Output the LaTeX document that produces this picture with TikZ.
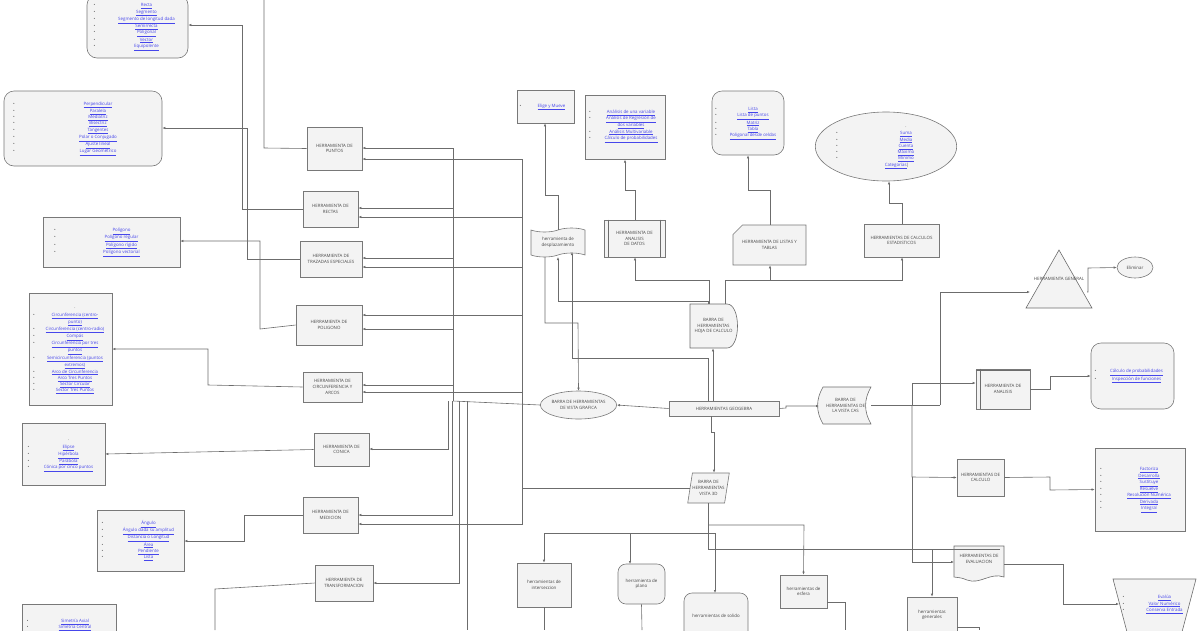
\documentclass[tikz,border=0pt]{standalone}
\usepackage{fontspec}
\setmainfont{Open Sans}
\usepackage{array}
\usetikzlibrary{arrows.meta,shapes.geometric,shapes.misc,shapes.symbols}
\definecolor{lb}{RGB}{70,70,235}
\definecolor{bf}{RGB}{243,243,243}
\definecolor{bd}{RGB}{120,120,120}
\definecolor{tx}{RGB}{70,70,70}
\newcommand\lk[1]{\textcolor{lb}{\underline{#1}}}
\newcommand\blist[3]{\begin{tabular}{@{}p{#1pt}@{}>{\centering\arraybackslash}p{#2pt}@{}}#3\end{tabular}}
\newcommand\tb{\textbullet}
\begin{document}
\begin{tikzpicture}[x=1pt,y=-1pt,
 box/.style={draw=bd,fill=bf,line width=0.6pt,inner sep=0pt,align=center,text=tx,font=\fontsize{4.4}{5.6}\selectfont},
 rbox/.style={box,rounded corners=8pt},
 lst/.style={box,font=\fontsize{4.4}{6}\selectfont},
 rlst/.style={lst,rounded corners=10pt},
 ln/.style={draw=bd!90!black,line width=0.6pt},
 arr/.style={ln,-{Latex[length=3pt,width=2.5pt]}}]
\useasboundingbox (0,0) rectangle (1200,630);
% ---- list boxes left
\node[rlst,minimum width=101pt,minimum height=63pt] (L1) at (137.5,26.5) {\blist{18}{70}{\tb&\lk{Recta}\\\tb&\lk{Segmento}\\\tb&\lk{Segmento de longitud dada}\\\tb&\lk{Semirrecta}\\\tb&\lk{Poligonal}\\\tb&\lk{Vector}\\\tb&\lk{Equipolente}\\}};
\node[rlst,minimum width=158pt,minimum height=75pt] (L2) at (83,128.5) {\blist{30}{110}{\tb&\lk{Perpendicular}\\\tb&\lk{Paralela}\\\tb&\lk{Mediatriz}\\\tb&\lk{Bisectriz}\\\tb&\lk{Tangentes}\\\tb&\lk{Polar o Conjugado}\\\tb&\lk{Ajuste lineal}\\\tb&\lk{Lugar Geométrico}\\}};
\node[lst,minimum width=137pt,minimum height=50pt] (L3) at (111.5,242) {\blist{20}{95}{\tb&\lk{Polígono}\\\tb&\lk{Polígono regular}\\\tb&\lk{Polígono rígido}\\\tb&\lk{Polígono vectorial}\\}};
\node[lst,minimum width=83pt,minimum height=112pt] (L4) at (70.5,349) {\blist{9}{66}{&.\\[2pt]\tb&\lk{Circunferencia (centro-}\\&\lk{punto)}\\\tb&\lk{Circunferencia (centro-radio)}\\\tb&\lk{Compás}\\\tb&\lk{Circunferencia por tres}\\&\lk{puntos}\\\tb&\lk{Semicircunferencia (puntos}\\&\lk{extremos)}\\\tb&\lk{Arco de Circunferencia}\\\tb&\lk{Arco Tres Puntos}\\\tb&\lk{Sector Circular}\\\tb&\lk{Sector Tres Puntos}\\}};
\node[lst,minimum width=83pt,minimum height=62pt] (L5) at (63.5,454) {\blist{10}{62}{&.\\[2pt]\tb&\lk{Elipse}\\\tb&\lk{Hipérbola}\\\tb&\lk{Parábola}\\\tb&\lk{Cónica por cinco puntos}\\}};
\node[lst,minimum width=87pt,minimum height=61pt] (L6) at (140.5,540.5) {\blist{16}{62}{\tb&\lk{Ángulo}\\\tb&\lk{Ángulo dada su amplitud}\\\tb&\lk{Distancia o Longitud}\\\tb&\lk{Área}\\\tb&\lk{Pendiente}\\\tb&\lk{Lista}\\}};
\node[lst,minimum width=94pt,minimum height=36pt,anchor=north] (L7) at (69,604) {\blist{12}{72}{\\[-2pt]\tb&\lk{Simetría Axial}\\\tb&\lk{Simetría Central}\\}};
% ---- tool boxes left
\node[box,minimum width=55pt,minimum height=43pt] (pun) at (334.5,148.5) {HERRAMIENTA DE\\PUNTOS};
\node[box,minimum width=55pt,minimum height=36pt] (rec) at (330.5,209) {HERRAMIENTA DE\\RECTAS};
\node[box,minimum width=62pt,minimum height=36pt] (tra) at (331,259) {HERRAMIENTA DE\\TRAZADAS ESPECIALES};
\node[box,minimum width=66pt,minimum height=40pt] (pol) at (329,325) {HERRAMIENTA DE\\POLIGONO};
\node[box,minimum width=59pt,minimum height=30pt] (cir) at (332.5,387) {HERRAMIENTA DE\\CIRCUNFERENCIA Y\\ARCOS};
\node[box,minimum width=55pt,minimum height=33pt] (con) at (341.5,449.5) {HERRAMIENTA DE\\CONICA};
\node[box,minimum width=55pt,minimum height=36pt] (med) at (330.5,515) {HERRAMIENTA DE\\MEDICION};
\node[box,minimum width=58pt,minimum height=36pt] (trn) at (344,583) {HERRAMIENTA DE\\TRANSFORMACION};
% ---- centre
\node[box,minimum width=110pt,minimum height=15pt] (geo) at (724,408.5) {HERRAMIENTAS GEOGEBRA};
\node[box,ellipse,minimum width=65pt,minimum height=28pt] (vg) at (578.5,405) {BARRA DE HERRAMIENTAS\\DE VISTA GRAFICA};
\node[box,tape,tape bend top=in and out,tape bend bottom=in and out,tape bend height=4pt,minimum width=54pt,minimum height=29pt] (des) at (558,242.5) {herramienta de\\desplazamiento};
\node[lst,minimum width=57pt,minimum height=33pt] (eli) at (545.5,106.5) {\blist{12}{40}{\tb&\lk{Elige y Mueve}\\}};
% hoja de calculo shape
\draw[ln,fill=bf] (690,304) -- (727,304) .. controls (741,304) and (741,348) .. (727,348) -- (690,348) -- cycle;
\node[box,draw=none,fill=none,minimum width=47pt,minimum height=44pt] (hoj) at (713.5,326) {BARRA DE\\HERRAMIENTAS\\HOJA DE CALCULO};
\node[box,minimum width=61pt,minimum height=37pt] (and) at (634.5,238.5) {HERRAMIENTA DE\\ANALISIS\\DE DATOS};
\draw[ln] ([xshift=5pt]and.north west)--([xshift=5pt]and.south west) ([xshift=-5pt]and.north east)--([xshift=-5pt]and.south east);
\node[lst,anchor=north,minimum width=80pt,minimum height=64pt] (andl) at (625,95) {\\[-4pt]\blist{12}{60}{\tb&\lk{Análisis de una variable}\\\tb&\lk{Análisis de Regresión de}\\&\lk{dos variables}\\\tb&\lk{Análisis Multivariable}\\\tb&\lk{Cálculo de probabilidades}\\}};
\node[box,chamfered rectangle,chamfered rectangle corners=north west,chamfered rectangle xsep=10pt,chamfered rectangle ysep=5pt,minimum width=73pt,minimum height=40pt] (lis) at (769.5,245) {HERRAMIENTA DE LISTAS Y\\TABLAS};
\node[rlst,minimum width=72pt,minimum height=64pt] (lisl) at (748,123) {\blist{10}{56}{\tb&\lk{Lista}\\\tb&\lk{Lista de puntos}\\\tb&\lk{Matriz}\\\tb&\lk{Tabla}\\\tb&\lk{Poligonal desde celdas}\\}};
\node[box,minimum width=75pt,minimum height=33pt] (est) at (901.5,240.5) {HERRAMIENTAS DE CALCULOS\\ESTADISTICOS};
\node[lst,ellipse,minimum width=132pt,minimum height=69pt,inner sep=0pt] (estl) at (886,146.5) {\blist{40}{60}{&.\\[1pt]\tb&\lk{Suma}\\\tb&\lk{Media}\\\tb&\lk{Cuenta}\\\tb&\lk{Máximo}\\\tb&\lk{Mínimo}\\&\hspace*{-18pt}\lk{Categorías}|\\}};
\node[box,trapezium,trapezium left angle=72,trapezium right angle=108,minimum width=40pt,minimum height=30pt,trapezium stretches=true] (d3) at (708.5,488) {BARRA DE\\HERRAMIENTAS\\VISTA 3D};
% CAS shape
\draw[ln,fill=bf] (823,387) -- (871,387) to[bend right=30] (871,424) -- (823,424) to[bend left=30] cycle;
\node[box,draw=none,fill=none,minimum width=51pt,minimum height=37pt] (cas) at (845.5,405.5) {BARRA DE\\HERRAMIENTAS DE\\LA VISTA CAS};
% right side
\draw[ln,fill=bf] (1059,250) -- (1092,308) -- (1026,308) -- cycle;
\node[box,draw=none,fill=none,minimum width=66pt,minimum height=50pt] (gen) at (1059,279) {HERRAMIENTA GENERAL};
\node[box,ellipse,minimum width=36pt,minimum height=21pt] (elim) at (1135,267.5) {Eliminar};
\node[box,minimum width=54pt,minimum height=40pt] (ana) at (1003,389) {HERRAMIENTA DE\\ANALISIS};
\draw[ln] (ana.north west)++(0,2)--++(54,0) (ana.north west)++(5,0)--++(0,40);
\node[rlst,minimum width=83pt,minimum height=66pt] (anal) at (1132.5,376) {\blist{8}{68}{\tb&\lk{Cálculo de probabilidades}\\\tb&\lk{Inspección de funciones}\\}};
\node[box,minimum width=47pt,minimum height=37pt] (cal) at (980.5,477.5) {HERRAMIENTAS DE\\CALCULO};
\node[lst,minimum width=90pt,minimum height=83pt] (call) at (1140,489.5) {\blist{18}{62}{\tb&\lk{Factoriza}\\\tb&\lk{Desarrolla}\\\tb&\lk{Sustituye}\\\tb&\lk{Resuelve}\\\tb&\lk{Resolución Numérica}\\\tb&\lk{Derivada}\\\tb&\lk{Integral}\\}};
\draw[ln,fill=bf] (954,546) -- (1004,546) -- (1004,577) .. controls (990,572) and (980,585) .. (967,580) .. controls (962,578) .. (954,577) -- cycle;
\node[box,draw=none,fill=none,minimum width=50pt,minimum height=28pt] (eva) at (979,559) {HERRAMIENTAS DE\\EVALUACION};
\draw[ln,fill=bf] (1113,579) -- (1196,579) -- (1182,632) -- (1127,632) -- cycle;
\node[lst,draw=none,fill=none] (eval) at (1154.5,604) {\blist{20}{44}{\tb&\lk{Evalúa}\\\tb&\lk{Valor Numérico}\\\tb&\lk{Conserva Entrada}\\}};
% 3D children
\node[box,minimum width=54pt,minimum height=44pt] (int) at (544,585) {herramientas de\\interseccion};
\node[rbox,minimum width=47pt,minimum height=40pt] (pla) at (641.5,584) {herramienta de\\plano};
\node[rbox,minimum width=64pt,minimum height=46pt] (sol) at (716,616) {herramientas de solido};
\node[box,minimum width=47pt,minimum height=33pt] (esf) at (803.5,591.5) {herramientas de\\esfera};
\node[box,minimum width=50pt,minimum height=36pt] (hge) at (932,615) {herramientas\\generales};
% ---- connectors left tools -> lists
\draw[ln] (pun.west) -- (264,148) -- (264,0);
\draw[arr] (rec.west) -- (242,209) -- (242,25) -- (L1.east|-0,25);
\draw[arr] (tra.west) -- (247,259) -- (247,128) -- (L2.east|-0,128);
\draw[arr] (pol.west) -- (260,329) -- (260,241) -- (L3.east|-0,241);
\draw[arr] (cir.west) -- (208,385) -- (208,349) -- (L4.east|-0,349);
\draw[arr] (con.west) -- (L5.east|-0,454);
\draw[arr] (med.west) -- (244,515) -- (244,541) -- (L6.east|-0,541);
\draw[ln] (trn.west) -- (215,589) -- (215,630);
% lanes from vista grafica
\draw[ln] (vg.west) -- (453,401);
\draw[arr] (453,401) -- (453,148) -- (pun.east|-0,148);
\draw[arr] (453,208) -- (rec.east|-0,208);
\draw[arr] (453,258) -- (tra.east|-0,258);
\draw[arr] (453,329) -- (pol.east|-0,329);
\draw[arr] (453,385) -- (cir.east|-0,385);
\draw[arr] (448,401) -- (448,449) -- (con.east|-0,449);
\draw[arr] (452,401) -- (452,515) -- (med.east|-0,515);
\draw[arr] (459,401) -- (459,583) -- (trn.east|-0,583);
\draw[ln] (467,401) -- (467,630);
\draw[ln] (d3.west|-0,488) -- (522,488);
\draw[arr] (522,488) -- (522,159) -- (pun.east|-0,159);
\draw[arr] (522,217) -- (rec.east|-0,217);
\draw[arr] (522,267) -- (tra.east|-0,267);
\draw[arr] (522,315) -- (pol.east|-0,315);
\draw[arr] (522,392) -- (cir.east|-0,392);
\draw[arr] (522,488) -- (522,524) -- (med.east|-0,524);
% desplazamiento
\draw[arr] (des.north) -- (558,195) -- (545,195) -- (eli.south-|545,0);
\draw[arr] (545,257) -- (545,323) -- (578,323) -- (vg.north);
\draw[arr] (hoj.north-|708,0) -- (708,301) -- (558,301) -- (558,257);
\draw[arr] (geo.north-|708,0) -- (708,358) -- (572,358) -- (572,252);
\draw[arr] (geo.north-|713,0) -- (hoj.south-|713,0);
\draw[arr] (geo.west) -- (vg.east);
% hoja de calculo
\draw[arr] (hoj.north-|709,0) -- (709,280) -- (635,280) -- (and.south-|635,0);
\draw[arr] (hoj.north-|725,0) -- (725,280) -- (770,280) -- (lis.south-|770,0);
\draw[arr] (770,280) -- (902,280) -- (est.south-|902,0);
\draw[arr] (and.north-|635,0) -- (635,190) -- (625,190) -- (andl.south-|625,0);
\draw[arr] (lis.north-|770,0) -- (770,190) -- (748,190) -- (lisl.south-|748,0);
\draw[arr] (est.north-|902,0) -- (902,203) -- (889,203) -- (estl.south-|889,0);
% geogebra -> CAS, 3D
\draw[arr] (geo.east) -- (786,408) -- (786,406) -- (819,406);
\draw[arr] (geo.south-|711,0) -- (711,432) -- (714,432) -- (d3.north-|714,0);
% CAS outputs
\draw[ln] (871,405) -- (940,405);
\draw[arr] (940,405) -- (940,292) -- (1030,292);
\draw[arr] (1087,292) -- (1088,292) -- (1088,268) -- (elim.west);
\draw[arr] (912,405) -- (912,383) -- (ana.west|-0,383);
\draw[arr] (912,405) -- (912,477) -- (cal.west);
\draw[arr] (912,477) -- (912,562) -- (954,562);
\draw[arr] (ana.east) -- (1050,389) -- (1050,376) -- (anal.west);
\draw[arr] (cal.east) -- (1050,477) -- (1050,490) -- (call.west);
\draw[arr] (1004,564) -- (1063,564) -- (1063,604) -- (1119,604);
% 3D children
\draw[ln] (d3.south-|708,0) -- (708,533);
\draw[arr] (708,533) -- (544,533) -- (int.north);
\draw[arr] (630,533) -- (630,564);
\draw[arr] (708,533) -- (715,533) -- (715,593);
\draw[arr] (708,525) -- (804,525) -- (esf.north);
\draw[arr] (708,525) -- (708,549) -- (932,549) -- (hge.north);
\draw[ln] (932,549) -- (1000,549);
\draw[ln] (int.south) -- (544,630);
\draw[ln] (pla.south) -- (642,630);
\draw[ln] (esf.east|-0,602) -- (845,602) -- (845,630);
\draw[ln] (hge.east|-0,627) -- (979,627) -- (979,630);
\end{tikzpicture}
\end{document}
